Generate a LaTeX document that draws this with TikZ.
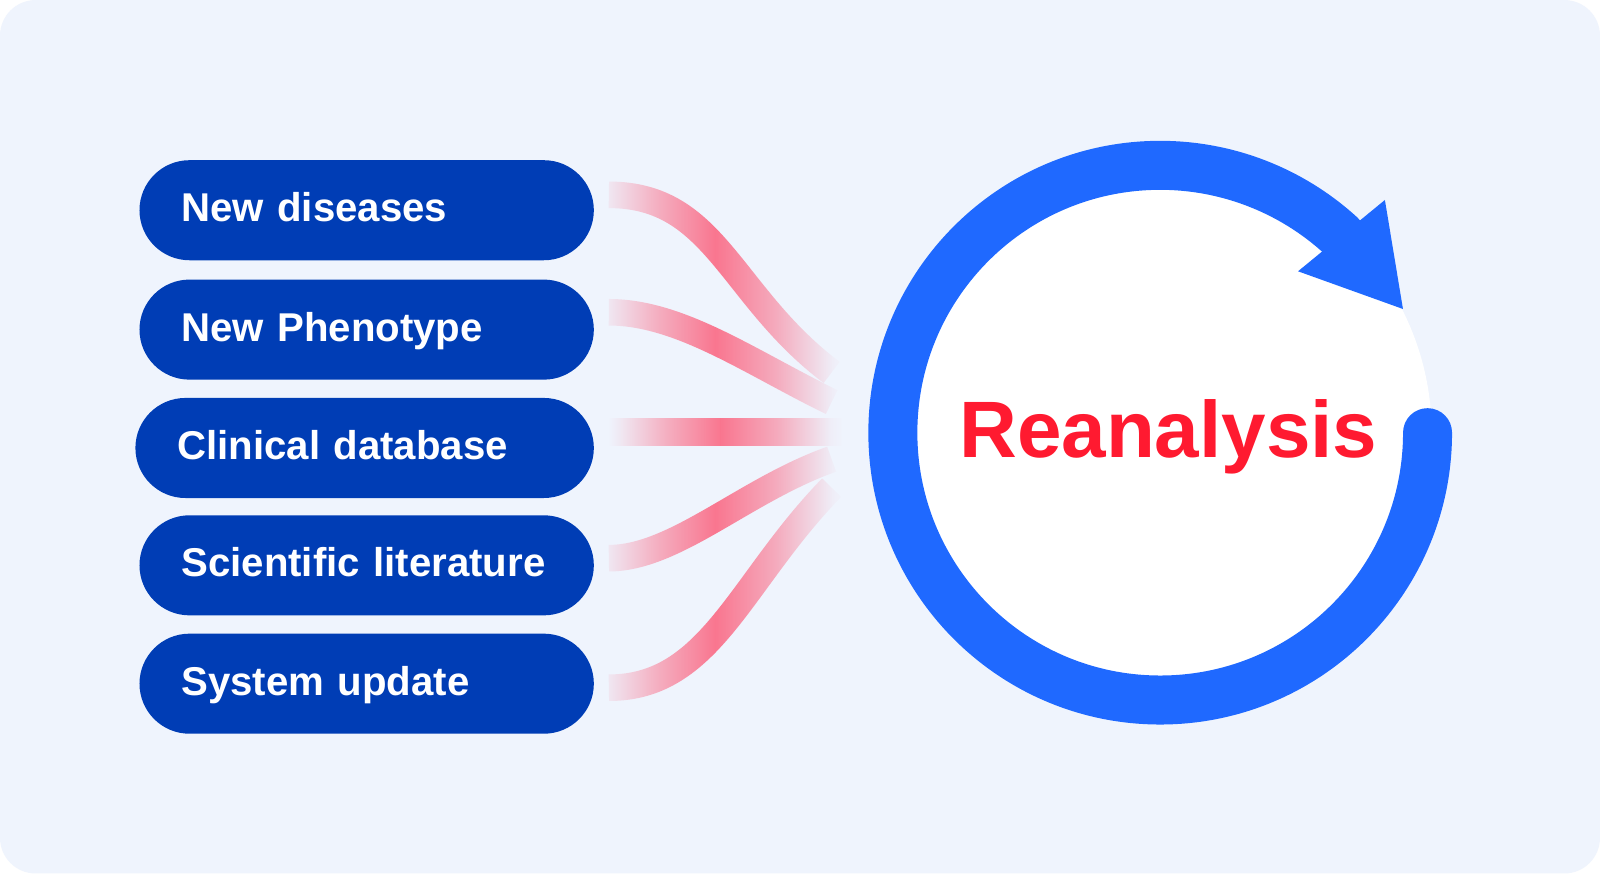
\documentclass[tikz,border=0pt]{standalone}
\usepackage{fontspec}
\setmainfont{Liberation Sans}
\usetikzlibrary{calc,fadings}
\definecolor{pagebg}{HTML}{EFF4FD}
\definecolor{pillblue}{HTML}{003DB5}
\definecolor{ringblue}{HTML}{1F69FF}
\definecolor{reanred}{HTML}{FF1A30}
\definecolor{ribbonred}{HTML}{FF3355}

% +-25bp of this is fitted to each ribbon's box
\begin{tikzfadingfrompicture}[name=ribfade]
  \shade[left color=transparent!100, right color=transparent!94] (-0.882cm,-3cm) rectangle (-0.794cm,3cm);
  \shade[left color=transparent!94, right color=transparent!64] (-0.794cm,-3cm) rectangle (-0.441cm,3cm);
  \shade[left color=transparent!64, right color=transparent!35] (-0.441cm,-3cm) rectangle (-0.035cm,3cm);
  \shade[left color=transparent!35, right color=transparent!62] (-0.035cm,-3cm) rectangle (0.388cm,3cm);
  \shade[left color=transparent!62, right color=transparent!97] (0.388cm,-3cm) rectangle (0.794cm,3cm);
  \shade[left color=transparent!97, right color=transparent!100] (0.794cm,-3cm) rectangle (0.882cm,3cm);
\end{tikzfadingfrompicture}

\begin{document}
\begin{tikzpicture}[x=0.01cm, y=0.01cm,
      pill/.style={fill=pillblue, rounded corners=0.49cm, anchor=west,
                   minimum height=0.98cm, minimum width=4.45cm,
                   text width=3.63cm, inner xsep=0.41cm, align=left,
                   text=white, text height=8pt, text depth=1.5pt,
                   font=\fontsize{11.2}{13}\selectfont\bfseries},
      ribbon/.style={draw=ribbonred, line width=0.26cm, path fading=ribfade},
      ribbonbar/.style={fill=ribbonred, path fading=ribfade}
    ]
    \useasboundingbox (0,0) rectangle (1568,-856);
    \fill[white] (0,0) rectangle (1568,-856);
    \fill[pagebg, rounded corners=0.35cm] (0,0) rectangle (1568,-856);

    % sources
    \node[pill] (pdis) at (136,-206) {New diseases};
    \node[pill] (pphe) at (136,-323) {New Phenotype};
    \node[pill, minimum width=4.49cm, text width=3.67cm] (pcli) at (132,-439) {Clinical database};
    \node[pill] (psci) at (136,-554) {Scientific literature};
    \node[pill] (psys) at (136,-670) {System update};

    % loop
    \coordinate (ctr) at (1137,-424);
    \fill[white] (ctr) circle[radius=266];
    \draw[ringblue, line width=0.48cm, line cap=round]
      ($(ctr)+(0:262)$) arc[start angle=0, end angle=-312.5, radius=262];
    \fill[ringblue] ($(ctr)+(49.5:208)$) -- ($(ctr)+(46:317)$)
      -- ($(ctr)+(27:267)$) -- cycle;
    \node[text=reanred, anchor=base, font=\fontsize{22.3}{26}\selectfont\bfseries]
      (rean) at (1145,-448) {Reanalysis};

    % ribbons into the loop
    \coordinate (in1) at (815,-365);
    \coordinate (in2) at (815,-394);
    \coordinate (in3) at (825,-437);
    \coordinate (in4) at (815,-450);
    \coordinate (in5) at (815,-478);
    \draw[ribbon] ($(pdis.east)+(14,15)$) .. controls +(105,0) and +(-100,75) .. (in1);
    \draw[ribbon] ($(pphe.east)+(14,17)$) .. controls +(70,0) and +(-80,39) .. (in2);
    \fill[ribbonbar] ($(pcli.east)+(14,29)$) rectangle (in3);
    \draw[ribbon] ($(psci.east)+(14,7)$) .. controls +(65,0) and +(-85,-30) .. (in4);
    \draw[ribbon] ($(psys.east)+(14,-4)$) .. controls +(100,0) and +(-90,-92) .. (in5);
  \end{tikzpicture}
\end{document}
